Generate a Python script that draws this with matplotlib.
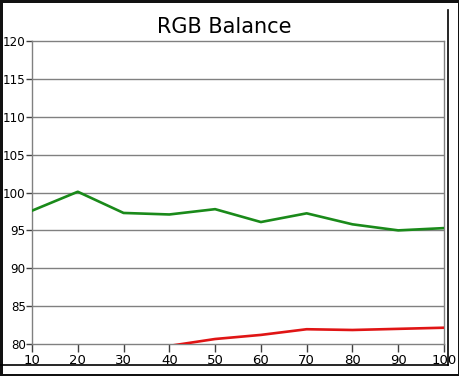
import matplotlib.pyplot as plt
from matplotlib.lines import Line2D

# 데이터
levels = [10, 20, 30, 40, 50, 60, 70, 80, 90, 100]
green_vals = [97.6, 100.1, 97.3, 97.1, 97.8, 96.1, 97.25, 95.8, 95.0, 95.3]
red_vals = [77.0, 77.6, 78.6, 79.75, 80.66, 81.2, 81.95, 81.85, 82.0, 82.15]
y_ticks = [80, 85, 90, 95, 100, 105, 110, 115, 120]

W, H = 460, 376
fig = plt.figure(figsize=(W / 100, H / 100), dpi=100)
ax = fig.add_axes([32 / W, 1 - 344 / H, (444 - 32) / W, (344 - 41) / H])

for y in y_ticks[1:-1]:
    ax.axhline(y, color='#808080', linewidth=1.0, zorder=0)

ax.plot(levels, green_vals, color='#1A8A1A', linewidth=1.9, zorder=3)
ax.plot(levels, red_vals, color='#E01515', linewidth=1.9, zorder=3)

ax.set_xlim(10, 100)
ax.set_ylim(80, 120)
ax.set_xticks(levels)
ax.set_yticks(y_ticks)
for s in ax.spines.values():
    s.set_color('#808080')
    s.set_linewidth(1.0)
ax.tick_params(axis='y', length=4, width=1, color='#404040', pad=0.5, labelsize=8.6)
ax.tick_params(axis='x', length=6, width=1, color='#404040', pad=1, labelsize=9.5)

fig.text(224 / W, 1 - 27 / H, 'RGB Balance', ha='center', va='center', fontsize=15)

# 외곽 테두리
fig.add_artist(Line2D([448 / W, 448 / W], [1 - 10 / H, 1 - 365 / H], color='black', linewidth=1.2))
fig.add_artist(Line2D([0, 448 / W], [1 - 365 / H, 1 - 365 / H], color='black', linewidth=1.2))
fig.patches.append(plt.Rectangle((0, 0), 1, 1, transform=fig.transFigure, fill=False,
                                 edgecolor='#111111', linewidth=3.6, zorder=0))

fig.savefig('out.png', dpi=100)
